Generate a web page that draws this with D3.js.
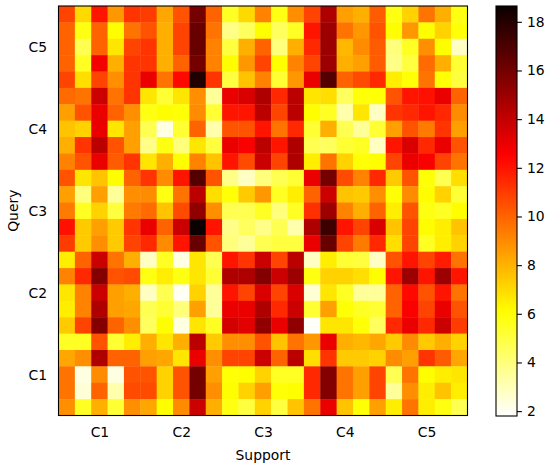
<!DOCTYPE html>
<html>
<head>
<meta charset="utf-8" />
<title>Query / Support heatmap</title>
<script src="https://cdn.jsdelivr.net/npm/d3@7"></script>
<style>
	body { margin: 0; background: #fff; }
	svg text { font-family: "DejaVu Sans", sans-serif; fill: #000; }
</style>
</head>
<body>
<svg id="chart" width="550" height="467"></svg>

<script>
// class labels, same order on both axes (C1 at the bottom / left)
var supportLabels = ["C1", "C2", "C3", "C4", "C5"];
var queryLabels   = ["C1", "C2", "C3", "C4", "C5"];
var perClass = 5;

// rows of each query class, listed as they appear on screen (top row first)
// each row has 25 values, one per support sample (C1 x5, C2 x5, ... C5 x5)
var queryC5 = [
	[10.8, 7, 12, 8.7, 11.2, 11, 8.3, 10.4, 16, 10, 5.5, 7, 9.2, 5.8, 8.9, 10.8, 14.5, 8.5, 8.1, 10.2, 5.8, 7.2, 9.6, 8.1, 5.8],
	[10, 5.8, 10, 6.1, 9.6, 10.4, 8.1, 10.8, 16.3, 9.6, 3.8, 4.5, 6.1, 4.5, 5.5, 12, 15, 9.6, 8.7, 10.4, 6.1, 8.7, 6.1, 7.2, 6],
	[10, 4.7, 10, 6.7, 10.8, 11.2, 8.1, 10.8, 16.3, 9.2, 5, 8.1, 10, 4, 8.1, 11.5, 15, 7.9, 9, 10.2, 4, 5.5, 8.9, 6.1, 2.8],
	[10, 5.5, 12.8, 8.1, 11.2, 11.2, 8.1, 10, 16, 9.2, 6.1, 8.7, 10.8, 6.1, 9.2, 10.8, 15, 8.1, 8.5, 10.2, 3.8, 5, 9.8, 8.1, 5.2],
	[10.8, 6.9, 10.8, 8.9, 11.2, 13, 9.6, 12.3, 18.1, 11.2, 5, 7.6, 9.2, 5.2, 8.7, 13, 16.8, 10, 10.6, 11.5, 6.5, 6, 9.6, 6, 5]
];
var queryC4 = [
	[9.8, 9.6, 13.8, 9.6, 11.2, 6.7, 5.2, 6.7, 8.9, 3.5, 13, 13.4, 14.5, 11.5, 14.2, 6.7, 6.9, 4.5, 6, 6, 10.4, 12, 12.1, 13, 10],
	[8.5, 10.4, 13, 10, 8.9, 5.8, 6.1, 6, 9, 5.2, 12, 12, 14.2, 10.8, 14.2, 6.1, 5.5, 3.2, 6.7, 2.8, 11.2, 11.5, 12, 11.5, 9],
	[7.6, 7.2, 13, 6.7, 8.5, 4.7, 2.3, 5.2, 10, 3.2, 10.4, 10.4, 12, 9.6, 11.5, 5.2, 8.1, 4.7, 3.5, 5.2, 8.5, 10.4, 9.4, 11.2, 8.5],
	[8.1, 11.2, 14.2, 10.4, 8.5, 3.8, 5.8, 4, 6.7, 5, 13, 12.6, 14.2, 12, 14.5, 4.7, 4.5, 5.2, 5.5, 2.8, 12, 13.4, 11.5, 13, 10.4],
	[9.2, 10.4, 13, 10.2, 11.2, 6.7, 8.1, 6.1, 9.2, 7.6, 12, 10.6, 13.8, 10.8, 14.5, 6.5, 9.6, 7.2, 6, 6.1, 10.8, 13, 12.6, 10.8, 9.6]
];
var queryC3 = [
	[10.4, 6.7, 7.6, 6.1, 10, 11.2, 9, 12, 16.8, 10.4, 3.8, 2.8, 4, 4.7, 5.2, 13, 16, 10.6, 9.2, 11.5, 7.4, 10.4, 6, 4.7, 6.9],
	[8.5, 4, 8.5, 3.5, 8.9, 9, 5.8, 9.6, 14.2, 6.9, 6, 7.4, 8.7, 5.5, 6.5, 10, 13.8, 7.6, 7.4, 8.9, 6, 9, 6.1, 7.2, 5.2],
	[9.4, 5.5, 7.2, 5, 9.4, 9.8, 7.6, 10.6, 15.3, 8.9, 4.7, 4.7, 5.5, 4, 5.5, 11.3, 15, 9.2, 8.1, 10, 6.5, 10.4, 5.8, 5.5, 6.1],
	[12.1, 7.4, 8.5, 7.4, 11.2, 13, 10, 13.8, 18.6, 12, 3.8, 4.5, 3.8, 4.7, 3.2, 14.5, 17.4, 12, 10.8, 13.4, 7.6, 10.8, 6.1, 6.5, 7.6],
	[11, 7.4, 8.9, 7.4, 10.8, 11.5, 9, 12, 16.3, 10.4, 4, 3.5, 4.7, 5, 5, 13, 16.3, 10.8, 9.4, 11.5, 6.9, 10.8, 5.5, 6.5, 7.2]
];
var queryC2 = [
	[6.5, 10, 13.8, 9.6, 8.1, 2.8, 5.5, 2.3, 6.7, 4.7, 12, 11.2, 13.8, 10.8, 14.2, 2.8, 6.5, 5.2, 5, 2.8, 10.4, 12, 10.8, 11.8, 9.6],
	[9.2, 11.5, 15.6, 10.4, 10.6, 5.8, 6.5, 5.8, 6.7, 5.2, 14.5, 14.5, 15.6, 13.8, 15, 5.8, 7.2, 7.2, 6.9, 6.1, 12, 15, 12, 15, 12],
	[6.7, 9.2, 13.8, 8.5, 8.1, 2.8, 4.7, 2, 7.2, 3.5, 12, 10.8, 13.4, 10.8, 13.4, 2.5, 6.7, 5.5, 3.5, 3.5, 10, 12.3, 10.4, 12, 9.6],
	[6.5, 9.2, 14.5, 8.5, 8.3, 4.7, 5.2, 4, 8.5, 3.5, 13, 13, 14.5, 11.5, 13.8, 5.2, 8.5, 6, 5.5, 5.2, 10, 12.6, 10.8, 13, 10.4],
	[7.4, 10.8, 15.6, 10, 8.9, 4.5, 6.1, 2.3, 6.7, 5.5, 13.6, 13.2, 15.3, 13, 15.3, 1.9, 6.7, 6.7, 6, 4.5, 11.5, 13, 11.5, 13.8, 11]
];
var queryC1 = [
	[5.5, 5.5, 10.4, 5.2, 6.5, 8.1, 6.7, 8.1, 14.2, 7.4, 8.9, 8.9, 10.4, 7.6, 9.6, 8.7, 13, 8.1, 7.9, 8.3, 7.4, 9, 7.4, 8.1, 7.2],
	[8.3, 8.9, 14.5, 10, 10, 8.5, 8.3, 6.7, 13, 8.9, 10.8, 10.8, 13.8, 10, 14.2, 6.9, 11.2, 7.4, 7.4, 7.2, 9, 8.5, 11.2, 10.2, 8.3],
	[9.6, 2.3, 9, 2.3, 10.4, 10.4, 7.2, 10.4, 16, 8.5, 6, 6.1, 7.2, 5.5, 5.5, 11.5, 15.6, 9.6, 8.5, 10.8, 4.7, 9.6, 6.1, 6.5, 6.7],
	[9.6, 2.5, 10, 3.2, 10.6, 10.6, 7.2, 10.4, 16, 8.9, 6.1, 7.2, 8.5, 6, 6.1, 11.5, 15.6, 9.6, 8.5, 10.8, 3.5, 8.9, 6.5, 7.6, 6.5],
	[8.9, 5.5, 8.1, 5.2, 8.9, 8.3, 6.1, 9, 13.8, 8.1, 5.8, 5, 7.2, 5, 7.6, 9.6, 13, 7.6, 6, 8.5, 6.5, 9.6, 6.5, 5.8, 4.7]
];

// colour bar range and ticks
var colorMin = 1.8,
    colorMax = 18.65;
var colorTicks = [2, 4, 6, 8, 10, 12, 14, 16, 18];

/* matplotlib "hot_r" */
function hotR(v) {
	var t = 1 - (v - colorMin) / (colorMax - colorMin);
	t = Math.max(0, Math.min(1, t));
	var r = Math.min(1, 0.0416 + (1 - 0.0416) * t / 0.365079),
	    g = Math.max(0, Math.min(1, (t - 0.365079) / (0.746032 - 0.365079))),
	    b = Math.max(0, Math.min(1, (t - 0.746032) / (1 - 0.746032)));
	return d3.rgb(r * 255, g * 255, b * 255).toString();
}

(function drawChart() {
	var plot = { left: 58.5, right: 467.5, top: 6, bottom: 415.5 };
	var bar  = { left: 496, right: 517, top: 6, bottom: 416 };
	var fontSize = 13.9;

	var n = supportLabels.length * perClass;

	// screen rows top to bottom
	var rows = [].concat(queryC5, queryC4, queryC3, queryC2, queryC1);

	var x = d3.scaleLinear().domain([0, n]).range([plot.left, plot.right]);
	// query index 0 is the bottom row
	var y = d3.scaleLinear().domain([0, n]).range([plot.bottom, plot.top]);

	var svg = d3.select("#chart");

	var cells = [];
	rows.forEach(function(row, r) {
		row.forEach(function(v, c) {
			cells.push({ q: n - 1 - r, s: c, v: v });
		});
	});

	svg.append("g")
		.selectAll("rect")
		.data(cells)
		.enter().append("rect")
			.attr("x", function(d) { return x(d.s); })
			.attr("y", function(d) { return y(d.q + 1); })
			.attr("width", function(d) { return x(d.s + 1) - x(d.s) + 0.4; })
			.attr("height", function(d) { return y(d.q) - y(d.q + 1) + 0.4; })
			.attr("fill", function(d) { return hotR(d.v); });

	svg.append("rect")
		.attr("x", plot.left)
		.attr("y", plot.top)
		.attr("width", plot.right - plot.left)
		.attr("height", plot.bottom - plot.top)
		.attr("fill", "none")
		.attr("stroke", "#000")
		.attr("stroke-width", 1.1);

	var classTicks = supportLabels.map(function(d, i) { return i * perClass + perClass / 2; });

	var xAxis = svg.append("g")
		.attr("transform", "translate(0," + plot.bottom + ")")
		.call(d3.axisBottom(x)
			.tickValues(classTicks)
			.tickFormat(function(d, i) { return supportLabels[i]; })
			.tickSize(0)
			.tickPadding(12));

	var yAxis = svg.append("g")
		.attr("transform", "translate(" + plot.left + ",0)")
		.call(d3.axisLeft(y)
			.tickValues(classTicks)
			.tickFormat(function(d, i) { return queryLabels[i]; })
			.tickSize(0)
			.tickPadding(11.5));

	[xAxis, yAxis].forEach(function(g) {
		g.select(".domain").remove();
		g.selectAll("text")
			.style("font-size", fontSize + "px")
			.style("font-family", "'DejaVu Sans', sans-serif");
	});

	svg.append("text")
		.attr("x", (plot.left + plot.right) / 2)
		.attr("y", 459.5)
		.attr("text-anchor", "middle")
		.style("font-size", fontSize + "px")
		.text("Support");

	svg.append("text")
		.attr("transform", "translate(17.5," + ((plot.top + plot.bottom) / 2) + ") rotate(-90)")
		.attr("text-anchor", "middle")
		.style("font-size", fontSize + "px")
		.text("Query");

	/* colour bar */
	var grad = svg.append("defs").append("linearGradient")
		.attr("id", "cbar")
		.attr("x1", 0).attr("y1", 1)
		.attr("x2", 0).attr("y2", 0);

	d3.range(0, 1.0001, 0.02).forEach(function(f) {
		grad.append("stop")
			.attr("offset", f)
			.attr("stop-color", hotR(colorMin + f * (colorMax - colorMin)));
	});

	svg.append("rect")
		.attr("x", bar.left)
		.attr("y", bar.top)
		.attr("width", bar.right - bar.left)
		.attr("height", bar.bottom - bar.top)
		.attr("fill", "url(#cbar)")
		.attr("stroke", "#000")
		.attr("stroke-width", 1.1);

	var c = d3.scaleLinear().domain([colorMin, colorMax]).range([bar.bottom, bar.top]);

	var cAxis = svg.append("g")
		.attr("transform", "translate(" + bar.right + ",0)")
		.call(d3.axisRight(c)
			.tickValues(colorTicks)
			.tickFormat(d3.format("d"))
			.tickSize(4.9)
			.tickPadding(5));

	cAxis.select(".domain").remove();
	cAxis.selectAll("line").attr("stroke", "#000").attr("stroke-width", 1.1);
	cAxis.selectAll("text")
		.style("font-size", fontSize + "px")
		.style("font-family", "'DejaVu Sans', sans-serif");
})();
</script>
</body>
</html>
